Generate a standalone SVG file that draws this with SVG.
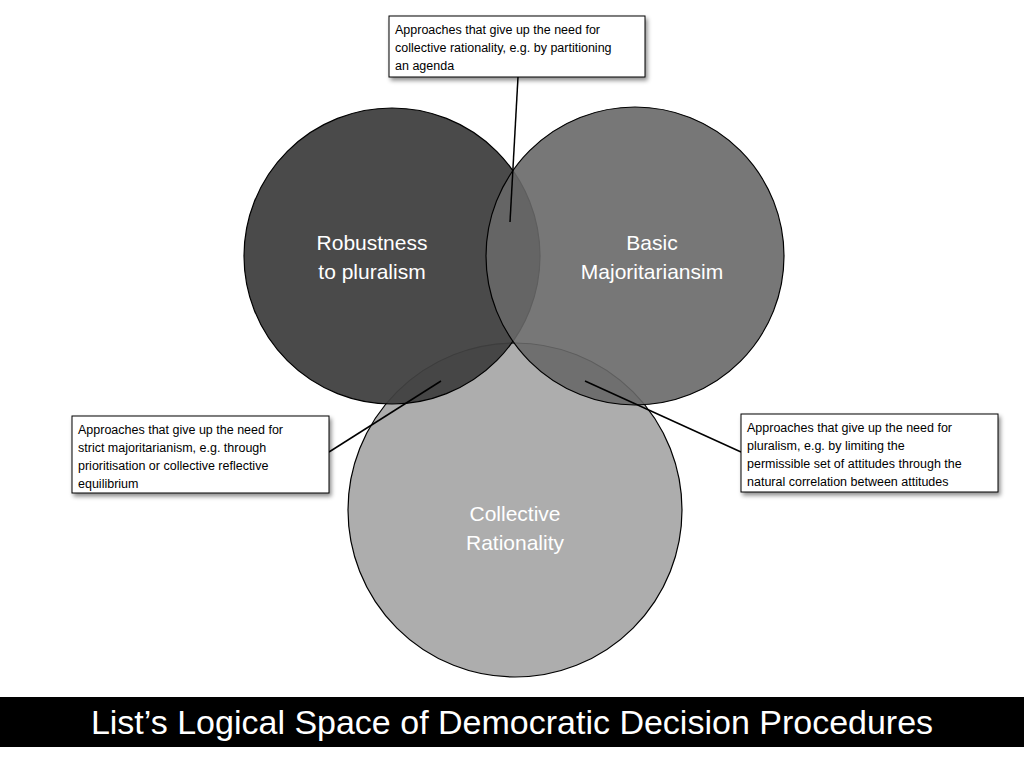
<svg xmlns="http://www.w3.org/2000/svg" width="1024" height="768" viewBox="0 0 1024 768">
<style>
.c{stroke:#000;stroke-width:1.2}
.lbl{font-family:"Liberation Sans",Arial,sans-serif;font-size:21px;fill:#fff;text-anchor:middle}
.box{fill:#fff;stroke:#000;stroke-width:1}
.bt{font-family:"Liberation Sans",Arial,sans-serif;font-size:12.5px;fill:#000}
.ln{stroke:#000;stroke-width:1.5;fill:none}
</style>
<defs><filter id="sh" x="-10%" y="-10%" width="130%" height="140%"><feDropShadow dx="2" dy="3" stdDeviation="2" flood-opacity="0.45"/></filter></defs>
<rect width="1024" height="768" fill="#fff"/>
<g id="collective"><circle class="c" cx="515" cy="510" r="167" fill="#adadad"/></g>
<g id="robustness"><circle class="c" cx="392" cy="256" r="148" fill="#404040" fill-opacity="0.95"/></g>
<g id="majoritarianism"><circle class="c" cx="635" cy="256" r="149" fill="#686868" fill-opacity="0.9"/></g>
<text class="lbl" x="372" y="250">Robustness</text><text class="lbl" x="372" y="279">to pluralism</text>
<text class="lbl" x="652" y="250">Basic</text><text class="lbl" x="652" y="279">Majoritariansim</text>
<text class="lbl" x="515" y="521">Collective</text><text class="lbl" x="515" y="550">Rationality</text>
<g id="connectors">
<line class="ln" x1="518" y1="77" x2="510" y2="222"/>
<line class="ln" x1="329" y1="452" x2="441" y2="381"/>
<line class="ln" x1="741" y1="452" x2="585" y2="381"/>
</g>
<g id="note-top"><rect class="box" x="389" y="16" width="256" height="61" filter="url(#sh)"/>
<text class="bt" x="395" y="34">Approaches that give up the need for</text>
<text class="bt" x="395" y="52">collective rationality, e.g. by partitioning</text>
<text class="bt" x="395" y="70">an agenda</text></g>
<g id="note-left"><rect class="box" x="72" y="416" width="257" height="77" filter="url(#sh)"/>
<text class="bt" x="78" y="434">Approaches that give up the need for</text>
<text class="bt" x="78" y="452">strict majoritarianism, e.g. through</text>
<text class="bt" x="78" y="470">prioritisation or collective reflective</text>
<text class="bt" x="78" y="488">equilibrium</text></g>
<g id="note-right"><rect class="box" x="741" y="414" width="257" height="78" filter="url(#sh)"/>
<text class="bt" x="747" y="432">Approaches that give up the need for</text>
<text class="bt" x="747" y="450">pluralism, e.g. by limiting the</text>
<text class="bt" x="747" y="468">permissible set of attitudes through the</text>
<text class="bt" x="747" y="486">natural correlation between attitudes</text></g>
<g id="title"><rect x="0" y="697" width="1024" height="50" fill="#000"/>
<text x="512" y="734" font-family="'Liberation Sans',Arial,sans-serif" font-size="34" fill="#fff" text-anchor="middle">List’s Logical Space of Democratic Decision Procedures</text></g>
</svg>
